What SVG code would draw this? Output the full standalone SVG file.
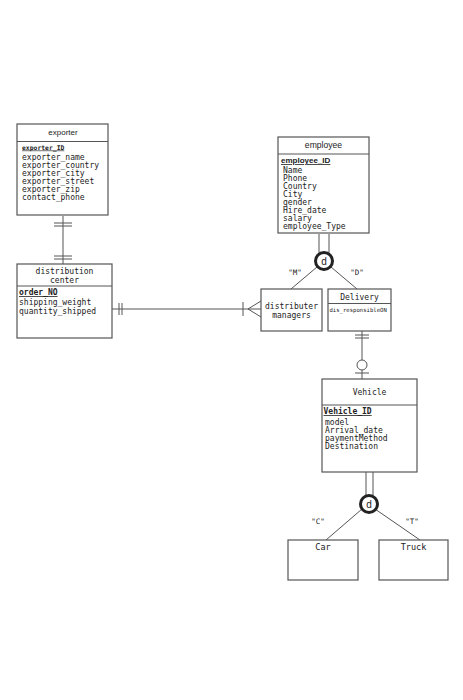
<svg xmlns="http://www.w3.org/2000/svg" width="463" height="700" viewBox="0 0 463 700">
<style>
.box{fill:#fff;stroke:#555;stroke-width:1.2}
.ln{stroke:#555;stroke-width:1;fill:none}
.mono{font-family:"DejaVu Sans Mono","Liberation Mono",monospace;font-size:8px;fill:#222}
.sans{font-family:"Liberation Sans",Arial,sans-serif;font-size:8px;fill:#222}
.key{font-weight:bold;text-decoration:underline}
.ctr{text-anchor:middle}
.disc{fill:#fff;stroke:#222;stroke-width:3}
</style>
<rect width="463" height="700" fill="#fff"/>
<g id="connectors">
<line class="ln" x1="63" y1="216" x2="63" y2="264"/>
<line class="ln" x1="54" y1="223" x2="72" y2="223"/>
<line class="ln" x1="54" y1="226" x2="72" y2="226"/>
<line class="ln" x1="54" y1="256" x2="72" y2="256"/>
<line class="ln" x1="54" y1="259" x2="72" y2="259"/>
<line class="ln" x1="112" y1="309" x2="261" y2="309"/>
<line class="ln" x1="119" y1="303" x2="119" y2="315"/>
<line class="ln" x1="122" y1="303" x2="122" y2="315"/>
<line class="ln" x1="243" y1="302" x2="243" y2="316"/>
<polyline class="ln" points="261,301 248,309 261,317"/>
<line class="ln" x1="319" y1="234" x2="319" y2="254"/>
<line class="ln" x1="329" y1="234" x2="329" y2="254"/>
<line class="ln" x1="317" y1="267" x2="291" y2="289"/>
<line class="ln" x1="331" y1="267" x2="357" y2="289"/>
<line class="ln" x1="362" y1="331" x2="362" y2="379"/>
<line class="ln" x1="355" y1="335" x2="369" y2="335"/>
<line class="ln" x1="355" y1="338" x2="369" y2="338"/>
<circle cx="362" cy="365" r="5" fill="#fff" stroke="#555" stroke-width="1"/>
<line class="ln" x1="355" y1="373" x2="369" y2="373"/>
<line class="ln" x1="366" y1="472" x2="366" y2="495"/>
<line class="ln" x1="373" y1="472" x2="373" y2="495"/>
<line class="ln" x1="362" y1="509" x2="326" y2="540"/>
<line class="ln" x1="375" y1="509" x2="420" y2="540"/>
</g>
<g id="disjoint1">
<circle class="disc" cx="324" cy="261" r="8.5"/>
<text class="sans ctr" x="324" y="264.5" style="font-size:10px">d</text>
<text class="mono ctr" x="295" y="275" style="font-size:7.5px">"M"</text>
<text class="mono ctr" x="357" y="275" style="font-size:7.5px">"D"</text>
</g>
<g id="disjoint2">
<circle class="disc" cx="369" cy="504" r="8.5"/>
<text class="sans ctr" x="369" y="507.5" style="font-size:10px">d</text>
<text class="mono ctr" x="318" y="524" style="font-size:7.5px">"C"</text>
<text class="mono ctr" x="412" y="524" style="font-size:7.5px">"T"</text>
</g>
<g id="exporter">
<rect class="box" x="17" y="124" width="91" height="91"/>
<line class="ln" x1="17" y1="141.5" x2="108" y2="141.5"/>
<text class="sans ctr" x="63" y="135">exporter</text>
<text class="mono key" x="22" y="149.5" style="font-size:6.4px">exporter_ID</text>
<text class="mono" x="22" y="159.5">exporter_name</text>
<text class="mono" x="22" y="167.5">exporter_country</text>
<text class="mono" x="22" y="175.5">exporter_city</text>
<text class="mono" x="22" y="183.5">exporter_street</text>
<text class="mono" x="22" y="191.5">exporter_zip</text>
<text class="mono" x="22" y="199.5">contact_phone</text>
</g>
<g id="distribution-center">
<rect class="box" x="17" y="264" width="95" height="74"/>
<line class="ln" x1="17" y1="286" x2="112" y2="286"/>
<text class="mono ctr" x="64.5" y="274">distribution</text>
<text class="mono ctr" x="64.5" y="282.5">center</text>
<text class="mono key" x="19" y="295">order_NO</text>
<text class="mono" x="19" y="305">shipping_weight</text>
<text class="mono" x="19" y="313.5">quantity_shipped</text>
</g>
<g id="employee">
<rect class="box" x="278" y="137" width="91" height="96"/>
<line class="ln" x1="278" y1="154" x2="369" y2="154"/>
<text class="sans ctr" x="323.5" y="148" style="font-size:8.6px">employee</text>
<text class="sans key" x="281" y="163" style="font-size:8px">employee_ID</text>
<text class="mono" x="283" y="172.5">Name</text>
<text class="mono" x="283" y="180.5">Phone</text>
<text class="mono" x="283" y="188.5">Country</text>
<text class="mono" x="283" y="196.5">City</text>
<text class="mono" x="283" y="204.5">gender</text>
<text class="mono" x="283" y="212.5">Hire_date</text>
<text class="mono" x="283" y="220.5">salary</text>
<text class="mono" x="283" y="228.5">employee_Type</text>
</g>
<g id="distributer-managers">
<rect class="box" x="261" y="289" width="61" height="42"/>
<text class="mono ctr" x="291.5" y="308.5">distributer</text>
<text class="mono ctr" x="291.5" y="317.5">managers</text>
</g>
<g id="delivery">
<rect class="box" x="328" y="289" width="63" height="42"/>
<line class="ln" x1="328" y1="303.5" x2="391" y2="303.5"/>
<text class="mono ctr" x="359.5" y="299.5">Delivery</text>
<text class="mono" x="329.5" y="312" style="font-size:5.6px">dis_responsibleON</text>
</g>
<g id="vehicle">
<rect class="box" x="322" y="379" width="95" height="93"/>
<line class="ln" x1="322" y1="405" x2="417" y2="405"/>
<text class="mono ctr" x="369.5" y="395">Vehicle</text>
<text class="mono key" x="323.5" y="414">Vehicle_ID</text>
<text class="mono" x="325" y="424.5">model</text>
<text class="mono" x="325" y="432.5">Arrival_date</text>
<text class="mono" x="325" y="440.5">paymentMethod</text>
<text class="mono" x="325" y="448.5">Destination</text>
</g>
<g id="car">
<rect class="box" x="288" y="540" width="70" height="40"/>
<text class="mono ctr" x="323" y="549.5" style="font-size:8.5px">Car</text>
</g>
<g id="truck">
<rect class="box" x="379" y="540" width="69" height="40"/>
<text class="mono ctr" x="413.5" y="549.5" style="font-size:8.5px">Truck</text>
</g>
</svg>
